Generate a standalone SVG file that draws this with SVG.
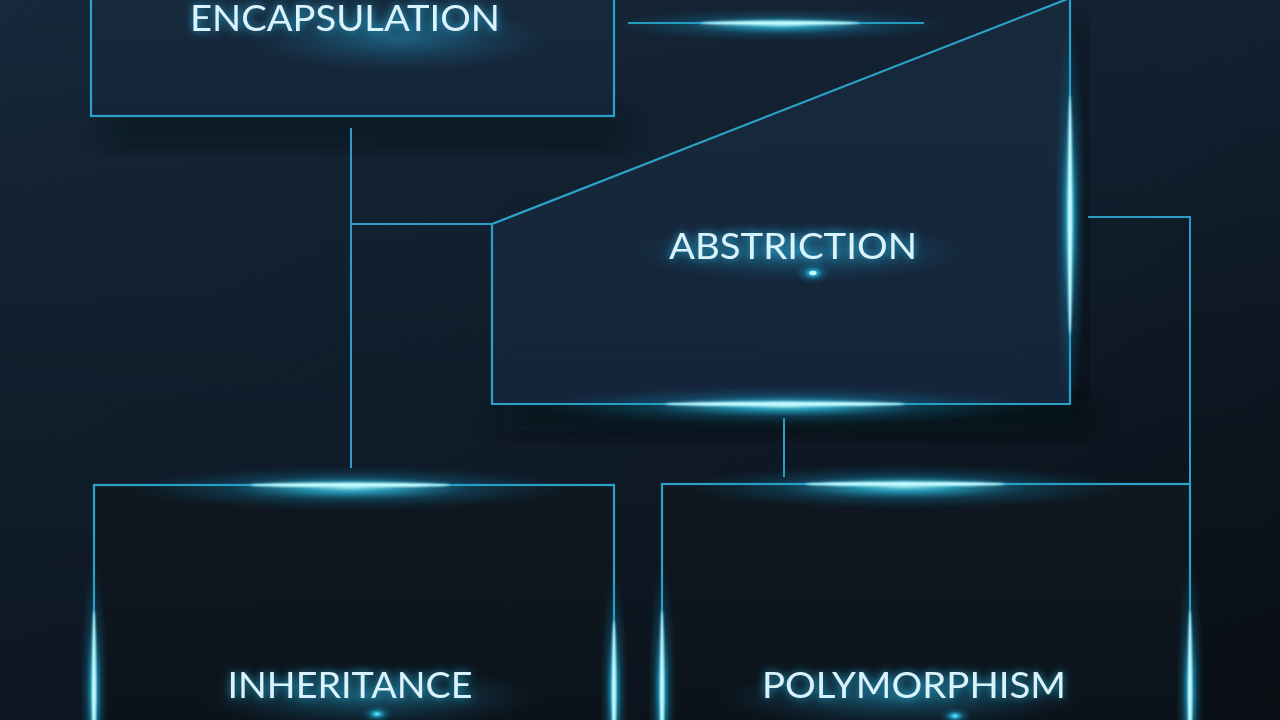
<svg xmlns="http://www.w3.org/2000/svg" width="1280" height="720" viewBox="0 0 1280 720">
<style>
.edge{fill:none;stroke:#2ba3c9;stroke-width:2.2}
.conn{fill:none;stroke:#2a9ec4;stroke-width:2}
.lbl{font-family:Lato,"Open Sans","Liberation Sans",sans-serif;font-size:36px;font-weight:400;fill:#d8f3fb;text-anchor:middle;filter:url(#tglow)}
.core{fill:#c4fbff;filter:url(#soft)}
</style>
<defs>
<linearGradient id="bg" x1="0" y1="0" x2="1" y2="1">
<stop offset="0" stop-color="#16283a"/>
<stop offset="0.55" stop-color="#122030"/>
<stop offset="1" stop-color="#0c141b"/>
</linearGradient>
<linearGradient id="bgv" x1="0" y1="0" x2="0" y2="1">
<stop offset="0" stop-color="#000" stop-opacity="0"/>
<stop offset="1" stop-color="#000" stop-opacity="0.3"/>
</linearGradient>
<linearGradient id="boxTop" x1="0" y1="0" x2="0" y2="1">
<stop offset="0" stop-color="#172a3c"/>
<stop offset="1" stop-color="#14243a"/>
</linearGradient>
<linearGradient id="boxBot" x1="0" y1="0" x2="0" y2="1">
<stop offset="0" stop-color="#0f1821"/>
<stop offset="1" stop-color="#0b1219"/>
</linearGradient>
<radialGradient id="gl">
<stop offset="0" stop-color="#8ff4ff" stop-opacity="1"/>
<stop offset="0.2" stop-color="#2fd0f5" stop-opacity="0.8"/>
<stop offset="0.55" stop-color="#1592c0" stop-opacity="0.3"/>
<stop offset="1" stop-color="#0a6a90" stop-opacity="0"/>
</radialGradient>
<radialGradient id="haze">
<stop offset="0" stop-color="#2bb8e8" stop-opacity="0.5"/>
<stop offset="1" stop-color="#1a7aa8" stop-opacity="0"/>
</radialGradient>
<filter id="tglow" x="-20%" y="-60%" width="140%" height="220%">
<feGaussianBlur in="SourceAlpha" stdDeviation="5" result="b"/>
<feFlood flood-color="#27c4f2" flood-opacity="0.8"/>
<feComposite in2="b" operator="in" result="g"/>
<feMerge><feMergeNode in="g"/><feMergeNode in="SourceGraphic"/></feMerge>
</filter>
<filter id="soft" x="-20%" y="-200%" width="140%" height="500%">
<feGaussianBlur stdDeviation="1.2"/>
</filter>
<filter id="shadow" x="-10%" y="-50%" width="120%" height="200%">
<feGaussianBlur stdDeviation="14"/>
</filter>
</defs>

<rect width="1280" height="720" fill="url(#bg)"/>
<rect width="1280" height="720" fill="url(#bgv)"/>

<!-- shadows -->
<rect x="105" y="112" width="520" height="30" fill="#060a10" opacity="0.55" filter="url(#shadow)"/>
<rect x="505" y="400" width="585" height="30" fill="#060a10" opacity="0.55" filter="url(#shadow)"/>
<rect x="1072" y="20" width="16" height="400" fill="#060a10" opacity="0.45" filter="url(#shadow)"/>

<g id="connectors">
<line class="conn" x1="628" y1="23" x2="924" y2="23"/>
<line class="conn" x1="351" y1="128" x2="351" y2="468"/>
<line class="conn" x1="351" y1="224" x2="492" y2="224"/>
<polyline class="conn" points="1088,217 1190,217 1190,484"/>
<line class="conn" x1="784" y1="418" x2="784" y2="477"/>
<ellipse cx="780" cy="25" rx="170" ry="16" fill="url(#gl)" opacity="0.8"/>
<ellipse class="core" cx="780" cy="23" rx="80" ry="2.2"/>
</g>

<g id="encapsulation">
<rect x="91" y="-10" width="523" height="126" fill="url(#boxTop)"/>
<rect class="edge" x="91" y="-10" width="523" height="126"/>
<ellipse cx="400" cy="38" rx="150" ry="34" fill="url(#haze)" opacity="0.8"/>
<text class="lbl" x="345" y="31" textLength="310" lengthAdjust="spacingAndGlyphs">ENCAPSULATION</text>
</g>

<g id="abstraction">
<polygon points="492,224 1070,-2 1070,404 492,404" fill="url(#boxTop)"/>
<polygon class="edge" points="492,224 1070,-2 1070,404 492,404"/>
<ellipse cx="800" cy="252" rx="170" ry="30" fill="url(#haze)" opacity="0.8"/>
<text class="lbl" x="793" y="259" textLength="248" lengthAdjust="spacingAndGlyphs">ABSTRICTION</text>
<ellipse cx="813" cy="273" rx="18" ry="11" fill="url(#gl)"/>
<ellipse cx="813" cy="273" rx="3.5" ry="2.2" fill="#c4fbff"/>
<ellipse cx="785" cy="406" rx="250" ry="20" fill="url(#gl)" opacity="0.85"/>
<ellipse class="core" cx="785" cy="404" rx="120" ry="2.4"/>
<ellipse cx="1070" cy="215" rx="16" ry="200" fill="url(#gl)" opacity="0.85"/>
<ellipse class="core" cx="1070" cy="215" rx="2.2" ry="120"/>
</g>

<g id="inheritance">
<rect x="94" y="485" width="520" height="260" fill="url(#boxBot)"/>
<rect class="edge" x="94" y="485" width="520" height="260"/>
<ellipse cx="350" cy="488" rx="220" ry="22" fill="url(#gl)" opacity="0.85"/>
<ellipse class="core" cx="350" cy="485" rx="100" ry="2.4"/>
<ellipse cx="94" cy="690" rx="14" ry="130" fill="url(#gl)" opacity="0.85"/>
<ellipse class="core" cx="94" cy="690" rx="2" ry="80"/>
<ellipse cx="614" cy="690" rx="14" ry="120" fill="url(#gl)" opacity="0.85"/>
<ellipse class="core" cx="614" cy="690" rx="2" ry="70"/>
<ellipse cx="370" cy="697" rx="170" ry="32" fill="url(#haze)" opacity="0.8"/>
<text class="lbl" x="350" y="698" textLength="245" lengthAdjust="spacingAndGlyphs">INHERITANCE</text>
<ellipse cx="377" cy="714" rx="16" ry="9" fill="url(#gl)"/>
</g>

<g id="polymorphism">
<rect x="662" y="484" width="528" height="260" fill="url(#boxBot)"/>
<rect class="edge" x="662" y="484" width="528" height="260"/>
<ellipse cx="905" cy="487" rx="220" ry="22" fill="url(#gl)" opacity="0.85"/>
<ellipse class="core" cx="905" cy="484" rx="100" ry="2.4"/>
<ellipse cx="662" cy="690" rx="14" ry="130" fill="url(#gl)" opacity="0.85"/>
<ellipse class="core" cx="662" cy="690" rx="2" ry="80"/>
<ellipse cx="1190" cy="690" rx="14" ry="130" fill="url(#gl)" opacity="0.85"/>
<ellipse class="core" cx="1190" cy="690" rx="2" ry="80"/>
<ellipse cx="900" cy="697" rx="180" ry="32" fill="url(#haze)" opacity="0.8"/>
<text class="lbl" x="914" y="698" textLength="304" lengthAdjust="spacingAndGlyphs">POLYMORPHISM</text>
<ellipse cx="955" cy="716" rx="16" ry="9" fill="url(#gl)"/>
</g>
</svg>
